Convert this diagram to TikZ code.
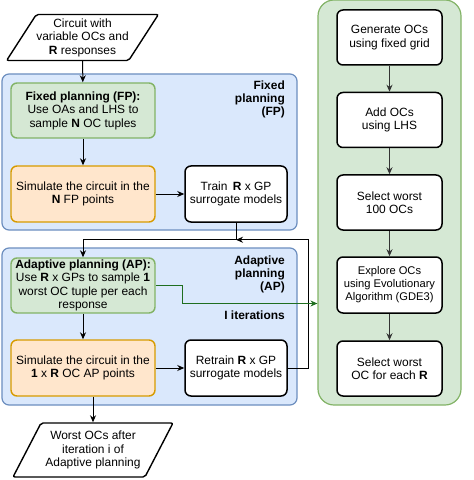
\documentclass[tikz,border=0pt]{standalone}
\usepackage{fontspec}
\setmainfont{Liberation Sans}
\usetikzlibrary{shapes, arrows.meta, positioning}
\definecolor{panelblue}{HTML}{DAE8FC}
\definecolor{panelblueline}{HTML}{6C8EBF}
\definecolor{stepgreen}{HTML}{D5E8D4}
\definecolor{stepgreenline}{HTML}{82B366}
\definecolor{simorange}{HTML}{FFE6CC}
\definecolor{simorangeline}{HTML}{D79B00}
\definecolor{linkgreen}{HTML}{1F6E1F}

\begin{document}
\begin{tikzpicture}[x=1bp, y=-1bp, >={Stealth[length=7bp,width=6bp]},
  font=\fontsize{12}{13.5}\selectfont,
  panel/.style={draw=panelblueline, fill=panelblue, line width=1.2bp, rounded corners=7bp,
    minimum width=295bp, inner sep=0pt},
  iobox/.style={trapezium, trapezium stretches=true, draw, line width=1.4bp, rounded corners=2bp,
    fill=white, align=center, inner sep=0pt},
  planbox/.style={draw=stepgreenline, fill=stepgreen, line width=1.4bp, rounded corners=6bp,
    minimum width=144bp, minimum height=55bp, align=center, inner sep=0pt},
  simbox/.style={draw=simorangeline, fill=simorange, line width=1.4bp, rounded corners=6bp,
    minimum width=144bp, minimum height=56bp, align=center, inner sep=0pt},
  gpbox/.style={draw, fill=white, line width=1.5bp, rounded corners=6bp,
    minimum width=102bp, minimum height=56bp, align=center, inner sep=0pt},
  gabox/.style={draw, fill=white, line width=1.5bp, rounded corners=6bp,
    minimum width=105bp, minimum height=55bp, align=center, inner sep=0pt},
  phase/.style={font=\fontsize{12}{13}\selectfont\bfseries, align=right, inner sep=0pt}]
\useasboundingbox (0,0) rectangle (474,480);

% panels
\node[panel, minimum height=156bp] (fppanel) at (149.5,152) {};
\node[panel, minimum height=157bp] (appanel) at (149.5,326.5) {};
\node[draw=stepgreenline, fill=stepgreen, line width=1.2bp, rounded corners=16bp,
  minimum width=143bp, minimum height=405bp] (gapanel) at (389.5,202.5) {};

% fixed planning
\node[iobox, trapezium left angle=52, trapezium right angle=128,
  minimum width=150bp, minimum height=46bp] (circuit) at (82.5,37.5)
  {Circuit with\\variable OCs and\\\textbf{R} responses};
\node[planbox] (fp) at (83,110.5)
  {\textbf{Fixed planning (FP):}\\Use OAs and LHS to\\sample \textbf{N} OC tuples};
\node[simbox] (simfp) at (83,194) {Simulate the circuit in the\\\textbf{N} FP points};
\node[gpbox] (train) at (236,194) {Train\, \textbf{R} x GP\\surrogate models};
\node[phase, anchor=north east] (fplabel) at (285,81) {Fixed\\planning\\(FP)};

% adaptive planning
\node[planbox] (ap) at (83,285.5)
  {\textbf{Adaptive planning (AP):}\\Use \textbf{R} x GPs to sample \textbf{1}\\worst OC tuple per each\\response};
\node[simbox] (simap) at (83,368) {Simulate the circuit in the\\\textbf{1} x \textbf{R} OC AP points};
\node[gpbox] (retrain) at (236,368) {Retrain \textbf{R} x GP\\surrogate models};
\node[phase, anchor=north east] (aplabel) at (285,256) {Adaptive\\planning\\(AP)};
\node[phase, anchor=east] (iter) at (285,315) {I iterations};
\node[iobox, trapezium left angle=56, trapezium right angle=124,
  minimum width=160bp, minimum height=54bp] (worstout) at (93,450)
  {Worst OCs after\\iteration i of\\Adaptive planning};

% evolutionary search
\node[gabox] (gen) at (389.5,37.5) {Generate OCs\\using fixed grid};
\node[gabox] (addoc) at (389.5,120) {Add OCs\\using LHS};
\node[gabox] (sel) at (389.5,202.5) {Select worst\\100 OCs};
\node[gabox, minimum height=56bp, font=\fontsize{11.2}{13}\selectfont] (explore) at (389.5,285)
  {Explore OCs\\using Evolutionary\\Algorithm (GDE3)};
\node[gabox] (selr) at (389.5,368.5) {Select worst\\OC for each \textbf{R}};

% connectors
\draw[->, line width=1bp] (circuit) -- (fp);
\draw[->, line width=1bp] (fp) -- (simfp);
\draw[->, line width=1bp] (simfp) -- (train);
\draw[->, line width=1bp] (train.south) -- ++(0,17) coordinate (join) -| (ap.north);
\draw[->, line width=1bp] (ap) -- (simap);
\draw[->, line width=1bp] (simap) -- (retrain);
\draw[->, line width=1bp] (retrain.east) -- ++(21,0) |- (join);
\draw[->, line width=1bp] (worstout.north |- simap.south) -- (worstout.north);
\draw[->, linkgreen, line width=1bp] (ap.east) -- ++(27,0) -- ++(0,18) coordinate (gturn) -- (gturn -| gapanel.west);

\draw[->, black!80, line width=1bp] (gen) -- (addoc);
\draw[->, black!80, line width=1bp] (addoc) -- (sel);
\draw[->, black!80, line width=1bp] (sel) -- (explore);
\draw[->, black!80, line width=1bp] (explore) -- (selr);
\end{tikzpicture}
\end{document}
